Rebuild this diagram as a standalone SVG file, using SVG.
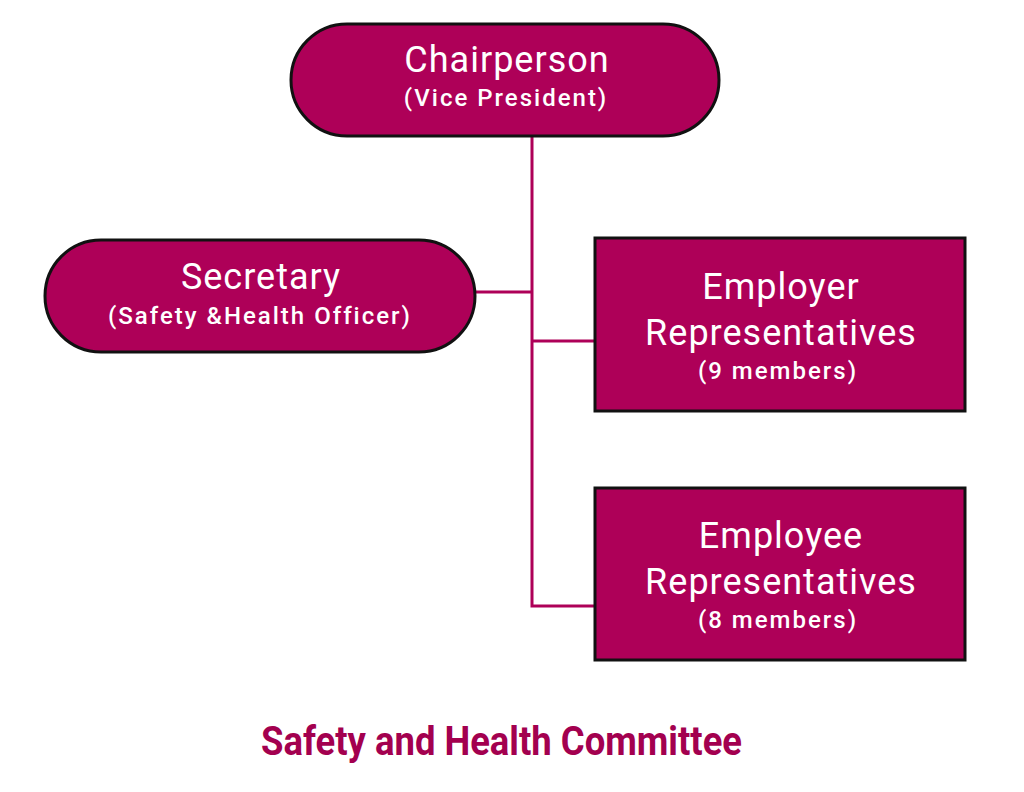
<svg xmlns="http://www.w3.org/2000/svg" width="1024" height="792" viewBox="0 0 1024 792">
<style>
.box{fill:#AE0058;stroke:#111;stroke-width:3}
.t1{font-family:Roboto,"Liberation Sans",sans-serif;font-size:36px;letter-spacing:1px;fill:#fff;text-anchor:middle}
.t2{font-family:Roboto,"Liberation Sans",sans-serif;font-size:24px;letter-spacing:2px;font-weight:500;fill:#fff;text-anchor:middle}
.ln{stroke:#AE0058;stroke-width:3;fill:none}
</style>
<rect width="1024" height="792" fill="#fff"/>
<g id="connectors">
<path class="ln" d="M532 136V606H595"/>
<path class="ln" d="M475 292H532"/>
<path class="ln" d="M532 341H595"/>
</g>
<g id="chairperson">
<rect class="box" x="291" y="24" width="428" height="112" rx="56"/>
<text class="t1" x="507" y="72">Chairperson</text>
<text class="t2" x="506" y="106">(Vice President)</text>
</g>
<g id="secretary">
<rect class="box" x="45" y="240" width="430" height="112" rx="56"/>
<text class="t1" x="261" y="289">Secretary</text>
<text class="t2" x="260" y="324">(Safety &amp;Health Officer)</text>
</g>
<g id="employer">
<rect class="box" x="595" y="238" width="370" height="173"/>
<text class="t1" x="781" y="299">Employer</text>
<text class="t1" x="781" y="345">Representatives</text>
<text class="t2" x="778" y="379">(9 members)</text>
</g>
<g id="employee">
<rect class="box" x="595" y="488" width="370" height="172"/>
<text class="t1" x="781" y="548">Employee</text>
<text class="t1" x="781" y="594">Representatives</text>
<text class="t2" x="778" y="628">(8 members)</text>
</g>
<g id="title">
<text x="261" y="755" textLength="481" lengthAdjust="spacingAndGlyphs" style="font-family:Roboto,'Liberation Sans',sans-serif;font-size:40px;font-weight:bold;fill:#A3004F">Safety and Health Committee</text>
</g>
</svg>
